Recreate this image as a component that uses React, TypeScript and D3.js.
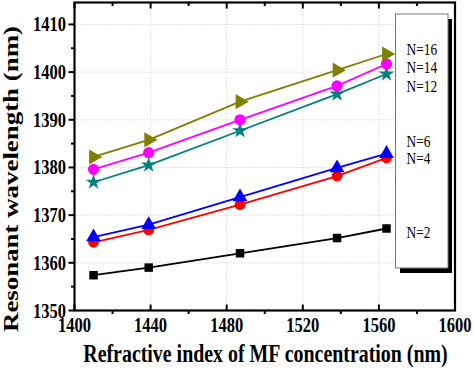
import React from "react";
import * as d3 from "d3";

const xValues = [1410, 1439, 1487, 1538, 1564];
const seriesNames = ["N=2", "N=4", "N=6", "N=12", "N=14", "N=16"];
const n2 = [1357.4, 1359.0, 1362.0, 1365.2, 1367.2];
const n4 = [1364.3, 1366.9, 1372.2, 1378.2, 1382.0];
const n6 = [1365.4, 1368.0, 1373.8, 1379.9, 1382.9];
const n12 = [1376.9, 1380.5, 1387.7, 1395.4, 1399.6];
const n14 = [1379.6, 1383.1, 1390.0, 1397.1, 1401.7];
const n16 = [1382.2, 1385.8, 1393.8, 1400.4, 1403.8];
const xTicks = [1400, 1440, 1480, 1520, 1560, 1600];
const yTicks = [1350, 1360, 1370, 1380, 1390, 1400, 1410];

const W = 474;
const H = 368;
const left = 74.5;
const right = 455;
const top = 2.5;
const bottom = 310.5;
const FONT = "'Liberation Serif', 'Times New Roman', Times, serif";
const SY = 1.25; // vertical stretch of the reference glyphs

const styles = [
  { color: "#000000", symbol: d3.symbolSquare, size: 72, rot: 0 },
  { color: "#ff0000", symbol: d3.symbolCircle, size: 90, rot: 0 },
  { color: "#0000ff", symbol: d3.symbolTriangle, size: 95, rot: 0 },
  { color: "#008080", symbol: d3.symbolStar, size: 75, rot: 0 },
  { color: "#ff00ff", symbol: d3.symbolCircle, size: 100, rot: 0 },
  { color: "#808000", symbol: d3.symbolTriangle, size: 100, rot: 90 },
];

// legend label baselines (pixels, layout only)
const legendY = [238, 164, 147, 92, 73, 55];

function T(props: {
  x: number;
  y: number;
  size: number;
  anchor?: string;
  bold?: boolean;
  sy?: number;
  children: React.ReactNode;
}) {
  const { x, y, size, anchor = "start", bold = false, sy = SY, children } = props;
  return (
    <text
      transform={`translate(${x},${y}) scale(1,${sy})`}
      textAnchor={anchor}
      fontSize={size}
      fontWeight={bold ? "bold" : "normal"}
      fill="#000"
      style={{ fontFamily: FONT }}
    >
      {children}
    </text>
  );
}

export default function App() {
  const x = d3.scaleLinear().domain([1400, 1600]).range([left, right]);
  const y = d3.scaleLinear().domain([1350, 1414.6]).range([bottom, top]);
  const data = [n2, n4, n6, n12, n14, n16];
  const line = d3
    .line<[number, number]>()
    .x((d) => x(d[0]))
    .y((d) => y(d[1]));

  const xMinor = d3.range(1420, 1600, 40);
  const yMinor = d3.range(1355, 1415, 10);

  return (
    <svg
      width={W}
      height={H}
      style={{ position: "absolute", left: 0, top: 0, background: "#fff", fontFamily: FONT }}
    >
      <rect x={0} y={0} width={W} height={H} fill="#fff" />
      {/* grid */}
      {xTicks.slice(1, -1).map((t) => (
        <line
          key={"gx" + t}
          x1={x(t)}
          x2={x(t)}
          y1={top}
          y2={bottom}
          stroke="#c8c8c8"
          strokeWidth={1}
          strokeDasharray="1,2"
        />
      ))}
      {yTicks.slice(1).map((t) => (
        <line
          key={"gy" + t}
          x1={left}
          x2={right}
          y1={y(t)}
          y2={y(t)}
          stroke="#c8c8c8"
          strokeWidth={1}
          strokeDasharray="1,2"
        />
      ))}

      {/* legend box */}
      <rect x={400} y={19} width={52} height={254} fill="#000" />
      <rect x={395.5} y={14} width={52.5} height={254} fill="#fff" stroke="#777" strokeWidth={1} />
      {seriesNames.map((n, i) => (
        <T key={n} x={406.5} y={legendY[i]} size={13.4} sy={1.2}>
          {n}
        </T>
      ))}

      {/* series */}
      {data.map((vals, i) => {
        const pts = vals.map((v, j) => [xValues[j], v] as [number, number]);
        const st = styles[i];
        const sym = d3.symbol().type(st.symbol).size(st.size)();
        return (
          <g key={i}>
            <path d={line(pts) || ""} fill="none" stroke={st.color} strokeWidth={1.8} />
            {pts.map((p, j) => (
              <path
                key={j}
                d={sym || ""}
                fill={st.color}
                transform={`translate(${x(p[0])},${y(p[1])}) rotate(${st.rot})`}
              />
            ))}
          </g>
        );
      })}

      {/* frame */}
      <rect x={left} y={top} width={right - left} height={bottom - top} fill="none" stroke="#000" strokeWidth={2.2} />

      {/* x ticks */}
      {xTicks.map((t) => (
        <g key={"xt" + t}>
          <line x1={x(t)} x2={x(t)} y1={bottom} y2={bottom - 6} stroke="#000" strokeWidth={2} />
          <line x1={x(t)} x2={x(t)} y1={top} y2={top + 6} stroke="#000" strokeWidth={2} />
          <T x={x(t)} y={332} size={16.5} anchor="middle" bold>
            {t}
          </T>
        </g>
      ))}
      {xMinor.map((t) => (
        <g key={"xm" + t}>
          <line x1={x(t)} x2={x(t)} y1={bottom} y2={bottom + 3.5} stroke="#000" strokeWidth={2} />
          <line x1={x(t)} x2={x(t)} y1={top} y2={top + 3.5} stroke="#000" strokeWidth={2} />
        </g>
      ))}

      {/* y ticks */}
      {yTicks.map((t) => (
        <g key={"yt" + t}>
          <line x1={left} x2={left - 6} y1={y(t)} y2={y(t)} stroke="#000" strokeWidth={2} />
          <T x={66} y={y(t) + 7} size={16.5} anchor="end" bold>
            {t}
          </T>
        </g>
      ))}
      {yMinor.map((t) => (
        <line key={"ym" + t} x1={left} x2={left - 3.5} y1={y(t)} y2={y(t)} stroke="#000" strokeWidth={2} />
      ))}

      {/* titles */}
      <T x={265.5} y={362} size={19.9} anchor="middle" bold>
        Refractive index of MF concentration (nm)
      </T>
      <text
        transform={`translate(18,179) rotate(-90) scale(1.25,1)`}
        textAnchor="middle"
        fontSize={21.5}
        fontWeight="bold"
        fill="#000"
        style={{ fontFamily: FONT }}
      >
        Resonant wavelength (nm)
      </text>
    </svg>
  );
}
